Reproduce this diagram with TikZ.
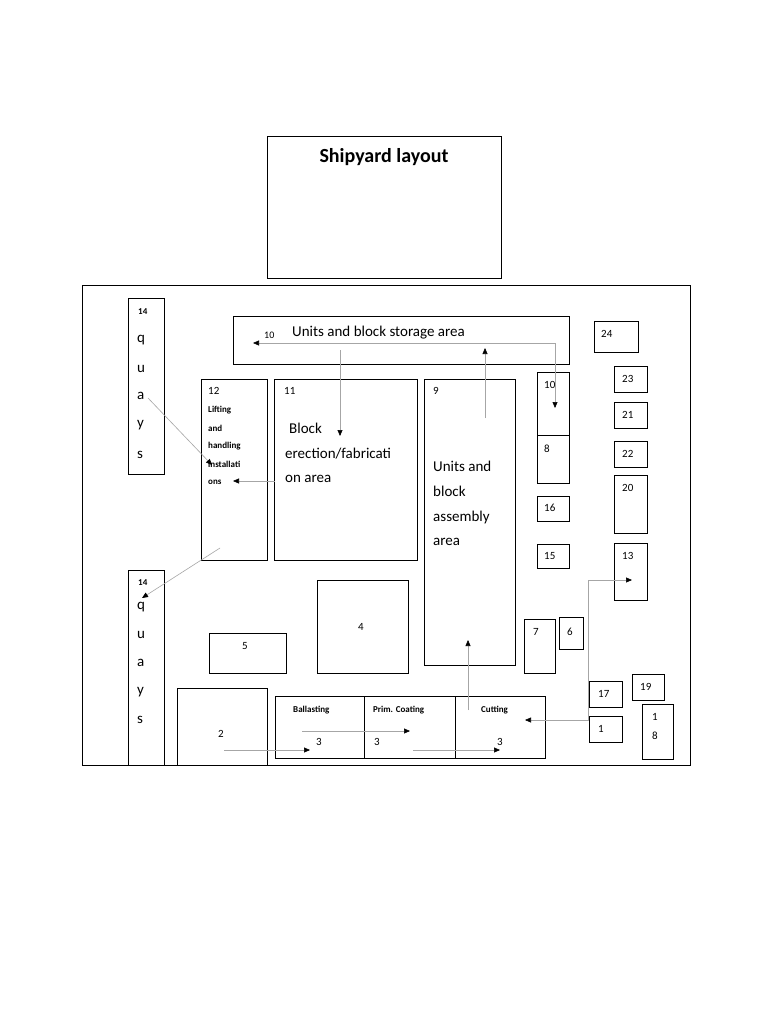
\documentclass[tikz,border=0pt]{standalone}
\usepackage{fontspec}
\setmainfont{Carlito}
\usetikzlibrary{arrows.meta}
\begin{document}
\begin{tikzpicture}[x=1pt,y=-1pt,
  box/.style={draw=black,line width=0.8pt},
  lbl/.style={anchor=west,inner sep=0pt,font=\fontsize{11}{12}\selectfont},
  blbl/.style={anchor=west,inner sep=0pt,font=\bfseries\fontsize{9}{10}\selectfont},
  big/.style={anchor=west,inner sep=0pt,font=\fontsize{15}{16}\selectfont},
  flow/.style={draw=gray!70,line width=0.6pt,-{Triangle[length=6pt,width=5pt,black]}},
  flow2/.style={draw=gray!70,line width=0.6pt,{Triangle[length=6pt,width=5pt,black]}-{Triangle[length=6pt,width=5pt,black]}}]
\useasboundingbox (0,0) rectangle (768,1024);
\fill[white] (0,0) rectangle (768,1024);
% title
\draw[box] (267,136) rectangle (501,278);
\node[font=\bfseries\fontsize{20}{22}\selectfont] (title) at (384,157) {Shipyard layout};
% outer
\draw[box] (82,285) rectangle (690,765);
% quays
\draw[box] (128,298) rectangle (164,474);
\node[blbl] (q1n) at (138,312) {14};
\foreach \t/\y in {q/340,u/369,a/396,y/425,s/455}{\node[big] at (137,\y) {\t};}
\draw[box] (128,570) rectangle (164,765);
\node[blbl] (q2n) at (138,583) {14};
\foreach \t/\y in {q/607,u/635,a/663,y/692,s/720}{\node[big] at (137,\y) {\t};}
% storage
\draw[box] (233,316) rectangle (569,364);
\node[lbl,font=\fontsize{10}{11}\selectfont] (s10) at (264,335) {10};
\node[big] (store) at (292,333) {Units and block storage area};
% 12
\draw[box] (201,379) rectangle (267,560);
\node[lbl] at (208,391) {12};
\foreach \t/\y in {Lifting/410,and/428,handling/446,installati/464,ons/482}{\node[blbl] at (208,\y) {\t};}
% 11
\draw[box] (274,379) rectangle (417,560);
\node[lbl] at (284,391) {11};
\node[big] at (289,428) {Block};
\node[big] at (285,454) {erection/fabricati};
\node[big] at (285,479) {on area};
% 9
\draw[box] (424,379) rectangle (515,665);
\node[lbl] at (433,391) {9};
\foreach \t/\y in {Units and/466,block/491,assembly/517,area/542}{\node[big] at (433,\y) {\t};}
% small right column
\draw[box] (537,372) rectangle (569,435);
\node[lbl] at (544,385) {10};
\draw[box] (537,435) rectangle (569,483);
\node[lbl] at (544,449) {8};
\draw[box] (537,496) rectangle (569,521); \node[lbl] at (544,508) {16};
\draw[box] (537,544) rectangle (569,568); \node[lbl] at (544,556) {15};
\draw[box] (594,321) rectangle (638,352); \node[lbl] at (601,334) {24};
\draw[box] (614,366) rectangle (647,392); \node[lbl] at (622,379) {23};
\draw[box] (614,402) rectangle (647,428); \node[lbl] at (622,415) {21};
\draw[box] (614,441) rectangle (647,467); \node[lbl] at (622,454) {22};
\draw[box] (614,475) rectangle (647,533); \node[lbl] at (622,488) {20};
\draw[box] (614,543) rectangle (647,600); \node[lbl] at (622,556) {13};
% lower
\draw[box] (317,580) rectangle (408,673); \node[lbl] at (358,627) {4};
\draw[box] (209,633) rectangle (286,673); \node[lbl] at (242,646) {5};
\draw[box] (524,619) rectangle (555,673); \node[lbl] at (533,632) {7};
\draw[box] (559,617) rectangle (583,649); \node[lbl] at (567,632) {6};
\draw[box] (177,688) rectangle (267,765); \node[lbl] at (218,734) {2};
\draw[box] (275,696) rectangle (545,758);
\draw[box] (364,696) -- (364,758);
\draw[box] (455,696) -- (455,758);
\node[blbl] at (293,710) {Ballasting};
\node[blbl] at (373,710) {Prim. Coating};
\node[blbl] at (481,710) {Cutting};
\node[lbl] at (316,742) {3};
\node[lbl] at (374,742) {3};
\node[lbl] at (497,742) {3};
\draw[box] (589,681) rectangle (622,707); \node[lbl] at (598,694) {17};
\draw[box] (589,716) rectangle (622,742); \node[lbl] at (598,729) {1};
\draw[box] (632,674) rectangle (664,700); \node[lbl] at (640,687) {19};
\draw[box] (642,704) rectangle (673,759); \node[lbl] at (652,717) {1}; \node[lbl] at (652,736) {8};
% flows
\coordinate (a1) at (253,343); \coordinate (a2) at (555,343); \coordinate (a3) at (555,408);
\draw[flow2] (a1) -- (a2) -- (a3);
\coordinate (b1) at (340,350); \coordinate (b2) at (340,436);
\draw[flow] (b1) -- (b2);
\coordinate (c1) at (485,418); \coordinate (c2) at (485,348);
\draw[flow] (c1) -- (c2);
\coordinate (d1) at (275,481); \coordinate (d2) at (233,481);
\draw[flow] (d1) -- (d2);
\coordinate (e1) at (148,398); \coordinate (e2) at (212,465);
\draw[flow] (e1) -- (e2);
\coordinate (f1) at (220,548); \coordinate (f2) at (142,598);
\draw[flow] (f1) -- (f2);
\coordinate (g1) at (468,710); \coordinate (g2) at (468,640);
\draw[flow] (g1) -- (g2);
\coordinate (h1) at (632,580); \coordinate (h2) at (588,580); \coordinate (h3) at (588,720); \coordinate (h4) at (525,720);
\draw[flow2] (h1) -- (h2) -- (h3) -- (h4);
\coordinate (i1) at (224,750); \coordinate (i2) at (310,750);
\draw[flow] (i1) -- (i2);
\coordinate (j1) at (302,731); \coordinate (j2) at (410,731);
\draw[flow] (j1) -- (j2);
\coordinate (k1) at (413,750); \coordinate (k2) at (500,750);
\draw[flow] (k1) -- (k2);
\end{tikzpicture}
\end{document}
